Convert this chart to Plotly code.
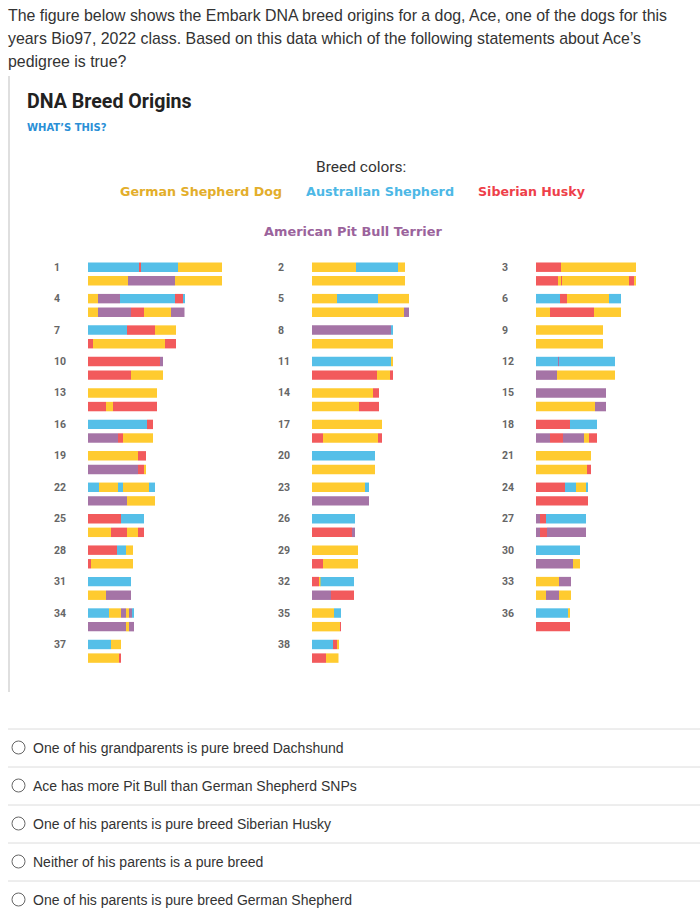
import plotly.graph_objects as go

# ---------------- data ----------------
BREEDS = ["G", "A", "S", "P"]
BREED_NAMES = {"G": "German Shepherd Dog", "A": "Australian Shepherd",
               "S": "Siberian Husky", "P": "American Pit Bull Terrier"}
BAR_COLORS = {"G": "#FFCB30", "A": "#55BFE8", "S": "#F25A5C", "P": "#A574A6"}
TEXT_COLORS = {"G": "#E3AE2B", "A": "#4DB8E6", "S": "#EE3F4A", "P": "#9B639C"}

CHROMOSOMES = list(range(1, 39))

# haplotype 1 (upper bar) segments: (breed, length)
HAP_A = {
    1: [("A", 51), ("S", 2), ("A", 37), ("G", 44)],
    2: [("G", 44), ("A", 42), ("G", 7)],
    3: [("S", 25), ("G", 75)],
    4: [("G", 10), ("P", 22), ("A", 55), ("S", 8), ("A", 1.5)],
    5: [("G", 25), ("A", 41), ("G", 31)],
    6: [("A", 24), ("S", 7), ("G", 42), ("A", 12)],
    7: [("A", 39), ("S", 28), ("G", 21)],
    8: [("P", 79), ("A", 2)],
    9: [("G", 67)],
    10: [("S", 72), ("P", 3)],
    11: [("A", 79), ("G", 2)],
    12: [("A", 22), ("P", 1), ("A", 56)],
    13: [("G", 69)],
    14: [("G", 61), ("S", 6)],
    15: [("P", 70)],
    16: [("A", 59), ("S", 6)],
    17: [("G", 70)],
    18: [("S", 34), ("A", 27)],
    19: [("G", 50), ("S", 8)],
    20: [("A", 63)],
    21: [("G", 55)],
    22: [("A", 11), ("G", 19), ("A", 5), ("G", 26), ("A", 6)],
    23: [("G", 53), ("A", 4)],
    24: [("S", 29), ("A", 11), ("G", 10), ("A", 2)],
    25: [("S", 33), ("A", 23)],
    26: [("A", 43)],
    27: [("P", 4), ("S", 6), ("A", 40)],
    28: [("S", 29), ("A", 9), ("G", 7)],
    29: [("G", 46)],
    30: [("A", 44)],
    31: [("A", 43)],
    32: [("S", 7), ("G", 1.5), ("A", 33.5)],
    33: [("G", 23), ("P", 12)],
    34: [("A", 21), ("G", 12), ("P", 5), ("G", 3), ("P", 3), ("A", 2)],
    35: [("G", 22), ("A", 7)],
    36: [("A", 32), ("G", 2)],
    37: [("A", 23), ("G", 10)],
    38: [("A", 21), ("S", 4), ("G", 1.5)],
}

# haplotype 2 (lower bar) segments
HAP_B = {
    1: [("G", 40), ("P", 47), ("G", 47)],
    2: [("G", 93)],
    3: [("S", 22), ("G", 3), ("S", 1), ("G", 67), ("S", 5), ("G", 2)],
    4: [("G", 10), ("P", 33), ("S", 13), ("G", 27), ("P", 13.5)],
    5: [("G", 92), ("P", 5)],
    6: [("G", 14), ("S", 44), ("G", 27)],
    7: [("S", 5), ("G", 72), ("S", 11)],
    8: [("G", 81)],
    9: [("G", 67)],
    10: [("S", 43), ("G", 32)],
    11: [("S", 65), ("G", 13), ("S", 3)],
    12: [("P", 21), ("G", 58)],
    13: [("S", 18), ("G", 7), ("S", 44)],
    14: [("G", 47), ("S", 20)],
    15: [("G", 59), ("P", 11)],
    16: [("P", 30), ("S", 5), ("G", 30)],
    17: [("S", 11), ("G", 55), ("S", 4)],
    18: [("P", 14), ("S", 13), ("P", 21), ("G", 5), ("S", 8)],
    19: [("P", 50), ("S", 6), ("G", 2)],
    20: [("G", 63)],
    21: [("G", 51), ("S", 4)],
    22: [("P", 39), ("G", 28)],
    23: [("P", 57)],
    24: [("S", 52)],
    25: [("G", 23), ("S", 16), ("G", 11), ("S", 6)],
    26: [("S", 40), ("P", 3)],
    27: [("P", 4), ("S", 7), ("P", 39)],
    28: [("S", 3), ("G", 42)],
    29: [("S", 11), ("G", 35)],
    30: [("P", 37), ("G", 7)],
    31: [("G", 18), ("P", 25)],
    32: [("P", 19), ("S", 23)],
    33: [("G", 10), ("P", 13), ("G", 12)],
    34: [("P", 38), ("G", 3), ("P", 5)],
    35: [("G", 28), ("S", 1)],
    36: [("S", 34)],
    37: [("G", 31), ("S", 2)],
    38: [("S", 14), ("G", 12.5)],
}

QUESTION_LINES = [
    "The figure below shows the Embark DNA breed origins for a dog, Ace, one of the dogs for this",
    "years Bio97, 2022 class. Based on this data which of the following statements about Ace\u2019s",
    "pedigree is true?",
]
OPTIONS = [
    "One of his grandparents is pure breed Dachshund",
    "Ace has more Pit Bull than German Shepherd SNPs",
    "One of his parents is pure breed Siberian Husky",
    "Neither of his parents is a pure breed",
    "One of his parents is pure breed German Shepherd",
]

# ---------------- layout helpers ----------------
W, H = 700, 910
ROW0_PX = 267.2      # pixel centre of row 0 upper bar
ROW_STEP = 31.44     # px per row
HAP_OFF = 0.433      # lower bar offset in row units
BAR_W = 0.30


def px(x):
    return x / W


def py(y):
    return 1 - y / H


fig = go.Figure()
axes = ["x", "x2", "x3"]

for col in range(3):
    segs = {b: {"x": [], "base": [], "y": []} for b in BREEDS}
    for chrom in CHROMOSOMES:
        if (chrom - 1) % 3 != col:
            continue
        row = (chrom - 1) // 3
        for h, hap in enumerate([HAP_A[chrom], HAP_B[chrom]]):
            start = 0.0
            for breed, length in hap:
                segs[breed]["x"].append(length)
                segs[breed]["base"].append(start)
                segs[breed]["y"].append(row + h * HAP_OFF)
                start += length
    for b in BREEDS:
        fig.add_trace(go.Bar(
            x=segs[b]["x"], base=segs[b]["base"], y=segs[b]["y"],
            orientation="h", width=BAR_W, name=BREED_NAMES[b],
            marker=dict(color=BAR_COLORS[b], line=dict(width=0)),
            xaxis=axes[col], yaxis="y", showlegend=False, hoverinfo="skip",
        ))
    for chrom in CHROMOSOMES:
        if (chrom - 1) % 3 != col:
            continue
        row = (chrom - 1) // 3
        fig.add_annotation(
            x=-36, y=row, xref=axes[col], yref="y", text=str(chrom),
            showarrow=False, xanchor="left", yanchor="middle",
            font=dict(family="Roboto", size=10.5, color="#666666", weight="bold"),
        )

col_starts = [88, 312, 536]
axis_common = dict(range=[-40, 150], showgrid=False, zeroline=False,
                   showticklabels=False, showline=False, ticks="", fixedrange=True)
fig.update_layout(
    xaxis=dict(domain=[px(col_starts[0] - 40), px(col_starts[0] + 150)], anchor="y", **axis_common),
    xaxis2=dict(domain=[px(col_starts[1] - 40), px(col_starts[1] + 150)], anchor="y", **axis_common),
    xaxis3=dict(domain=[px(col_starts[2] - 40), px(col_starts[2] + 150)], anchor="y", **axis_common),
    yaxis=dict(domain=[0, 1],
               range=[(H - ROW0_PX) / ROW_STEP, -ROW0_PX / ROW_STEP],
               showgrid=False, zeroline=False, showticklabels=False,
               showline=False, ticks="", fixedrange=True),
    barmode="overlay",
    width=W, height=H,
    margin=dict(l=0, r=0, t=0, b=0),
    paper_bgcolor="white", plot_bgcolor="white",
)

# question text
qfont = dict(family="Liberation Sans, Arial", size=15.9, color="#333333")
for i, line in enumerate(QUESTION_LINES):
    fig.add_annotation(x=px(6), y=py(15 + i * 23.5), xref="paper", yref="paper",
                       text=line, showarrow=False, xanchor="left", yanchor="middle",
                       font=qfont)

# left border line of the embedded image
fig.add_shape(type="line", x0=px(9), x1=px(9), y0=py(76), y1=py(692),
              xref="paper", yref="paper", line=dict(color="#d4d4d4", width=1.5))

fig.add_annotation(x=px(25), y=py(101), xref="paper", yref="paper",
                   text="<b>DNA Breed Origins</b>", showarrow=False,
                   xanchor="left", yanchor="middle",
                   font=dict(family="Roboto", size=19.6, color="#222222"))
fig.add_annotation(x=px(25), y=py(128), xref="paper", yref="paper",
                   text="<b>WHAT\u2019S THIS?</b>", showarrow=False,
                   xanchor="left", yanchor="middle",
                   font=dict(family="DejaVu Sans", size=10, color="#2a8fd6"))
fig.add_annotation(x=px(361), y=py(167), xref="paper", yref="paper",
                   text="Breed colors:", showarrow=False,
                   xanchor="center", yanchor="middle",
                   font=dict(family="Roboto", size=15.5, color="#333333"))

legend_pos = {"G": (200.5, 191), "A": (379.5, 191), "S": (531.5, 191), "P": (352.5, 231)}
legend_size = {"G": 12.7, "A": 12.8, "S": 12.6, "P": 12.9}
for b in BREEDS:
    lx, ly = legend_pos[b]
    fig.add_annotation(x=px(lx), y=py(ly), xref="paper", yref="paper",
                       text="<b>" + BREED_NAMES[b] + "</b>", showarrow=False,
                       xanchor="center", yanchor="middle",
                       font=dict(family="DejaVu Sans", size=legend_size[b], color=TEXT_COLORS[b]))

# answer options
for i, opt in enumerate(OPTIONS):
    ly = 729 + i * 38
    fig.add_shape(type="line", x0=px(8), x1=px(700), y0=py(ly), y1=py(ly),
                  xref="paper", yref="paper", line=dict(color="#dcdcdc", width=1))
    cy = ly + 18.5
    fig.add_shape(type="circle", x0=px(12), x1=px(25), y0=py(cy - 6.5), y1=py(cy + 6.5),
                  xref="paper", yref="paper", line=dict(color="#666666", width=1))
    fig.add_annotation(x=px(31), y=py(cy), xref="paper", yref="paper",
                       text=opt, showarrow=False, xanchor="left", yanchor="middle",
                       font=dict(family="Liberation Sans, Arial", size=14, color="#333333"))

fig.write_html("out.html")
